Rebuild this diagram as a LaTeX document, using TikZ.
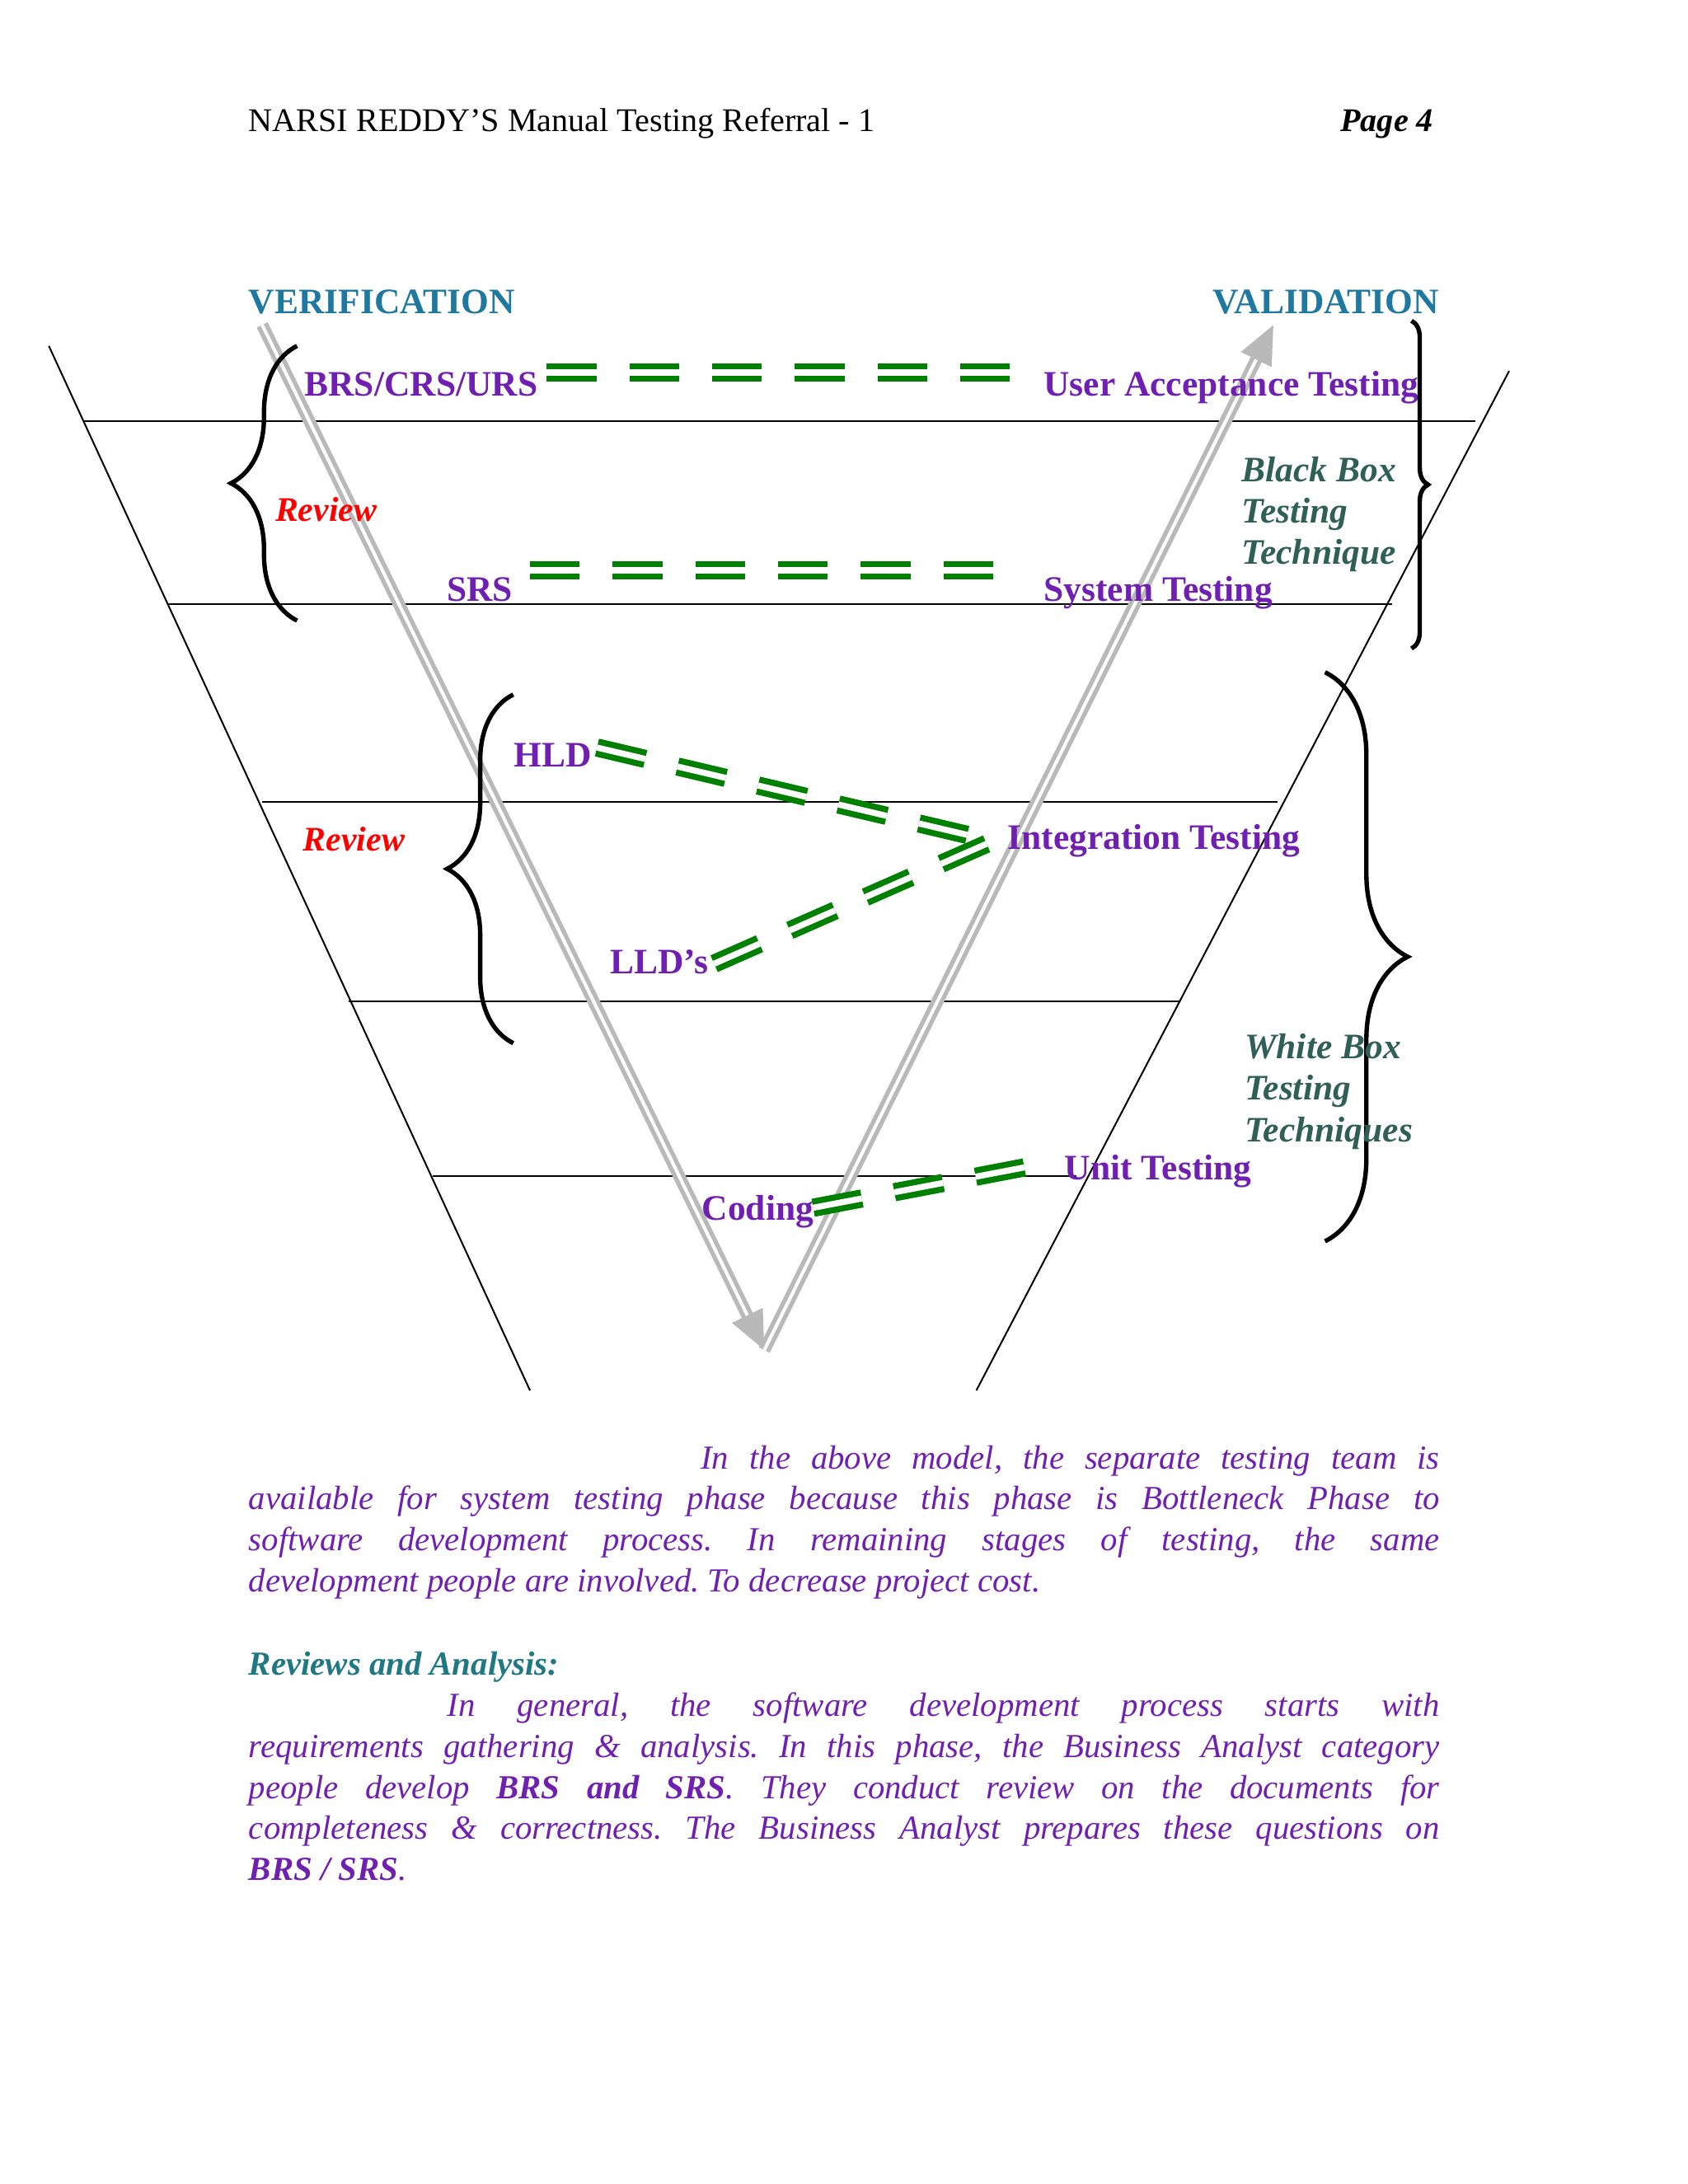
\documentclass[tikz,border=0pt]{standalone}
\usepackage{fontspec}
\setmainfont{Liberation Serif}
\usetikzlibrary{decorations.pathreplacing,arrows.meta}
\definecolor{vblue}{RGB}{31,120,160}
\definecolor{lpurple}{RGB}{112,32,176}
\definecolor{tgreen}{RGB}{47,95,85}
\definecolor{dgreen}{RGB}{0,128,0}
\definecolor{rteal}{RGB}{31,120,130}
\frenchspacing
\tikzset{
 lab/.style={font=\fontsize{13}{15}\selectfont\bfseries, text=lpurple, inner sep=0pt, anchor=base west},
 tech/.style={font=\fontsize{13}{15}\selectfont\bfseries\itshape, text=tgreen, inner sep=0pt, anchor=north west, align=left},
 rev/.style={font=\fontsize{12.5}{14}\selectfont\bfseries\itshape, text=red, inner sep=0pt, anchor=base west},
 gdash/.style={draw=dgreen, double=white, double distance=2.2pt, line width=2.2pt, dash pattern=on 18pt off 12pt},
 garrow/.style={draw=gray!55, double=white, double distance=1.2pt, line width=1.6pt, -{Triangle[length=14pt,width=12pt,fill=gray!55]}},
 brc/.style={draw, line width=1.6pt, decorate, decoration={brace, amplitude=24pt}},
 thin/.style={draw, line width=0.6pt},
 para/.style={anchor=north west, inner sep=0pt, text=lpurple, text width=432pt, align=justify, font=\fontsize{12.2}{14.9}\selectfont\itshape}
}
\begin{document}
\begin{tikzpicture}[x=0.506pt,y=-0.506pt]
\useasboundingbox (0,0) rectangle (1210,1566);
\node[font=\fontsize{12}{14}\selectfont, anchor=base west, inner sep=0pt] (hdr) at (178,94) {NARSI REDDY’S Manual Testing Referral - 1};
\node[font=\fontsize{12}{14}\selectfont\bfseries\itshape, anchor=base east, inner sep=0pt] (pg) at (1028,94) {Page 4};
\node[font=\fontsize{13}{15}\selectfont\bfseries, text=vblue, anchor=base west, inner sep=0pt] (ver) at (178,225) {VERIFICATION};
\node[font=\fontsize{13}{15}\selectfont\bfseries, text=vblue, anchor=base east, inner sep=0pt] (val) at (1032,225) {VALIDATION};
% funnel
\coordinate (l1) at (35,248); \coordinate (l2) at (380,997);
\coordinate (r1) at (1082,266); \coordinate (r2) at (700,997);
\draw[thin] (l1) -- (l2); \draw[thin] (r1) -- (r2);
\draw[thin] (60,302) -- (1058,302);
\draw[thin] (120,433) -- (998,433);
\draw[thin] (188,575) -- (916,575);
\draw[thin] (250,718) -- (846,718);
\draw[thin] (310,843) -- (772,843);
% V arrows
\coordinate (vt1) at (188,233); \coordinate (vb) at (548,968); \coordinate (vt2) at (913,233);
\draw[garrow] (vt1) -- (vb);
\draw[garrow] (vb) -- (vt2);
% labels
\node[lab] (brs) at (218,284) {BRS/CRS/URS};
\node[lab] (uat) at (748,284) {User Acceptance Testing};
\node[lab] (srs) at (320,431) {SRS};
\node[lab] (st) at (748,431) {System Testing};
\node[lab] (hld) at (368,550) {HLD};
\node[lab] (it) at (722,609) {Integration Testing};
\node[lab] (lld) at (437,698) {LLD’s};
\node[lab] (cod) at (503,875) {Coding};
\node[lab] (ut) at (763,846) {Unit Testing};
% green dashed
\coordinate (g1a) at (392,267); \coordinate (g1b) at (738,267);
\coordinate (g2a) at (380,409); \coordinate (g2b) at (728,409);
\coordinate (g3a) at (428,536); \coordinate (g3b) at (712,603);
\coordinate (g4a) at (512,691);
\coordinate (g5a) at (583,866); \coordinate (g5b) at (740,836);
\draw[gdash] (g1a) -- (g1b);
\draw[gdash] (g2a) -- (g2b);
\draw[gdash] (g3a) -- (g3b);
\draw[gdash] (g4a) -- (g3b);
\draw[gdash] (g5a) -- (g5b);
% braces
\draw[brc] (213,445) -- (213,248);
\draw[brc] (368,748) -- (368,498);
\draw[brc, decoration={brace, amplitude=6pt}] (1012,230) -- (1012,465);
\draw[brc, decoration={brace, amplitude=30pt}] (950,482) -- (950,890);
\node[rev] (rv1) at (197,374) {Review};
\node[rev] (rv2) at (217,610) {Review};
\node[tech] (bb) at (890,327) {Black Box\\Testing\\Technique};
\node[tech] (wb) at (892,741) {White Box\\Testing\\Techniques};
% paragraphs
\node[para] (p1) at (178,1036) {%
\hspace*{164pt}In the above model, the separate testing team is\linebreak available for system testing phase because this phase is Bottleneck Phase to\linebreak software development process. In remaining stages of testing, the same\linebreak development people are involved. To decrease project cost.};
\node[para] (p2) at (178,1184) {%
{\color{rteal}\bfseries Reviews and Analysis:}\\
\hspace*{72pt}In general, the software development process starts with\linebreak requirements gathering \& analysis. In this phase, the Business Analyst category\linebreak people develop {\bfseries BRS and SRS}. They conduct review on the documents for\linebreak completeness \& correctness. The Business Analyst prepares these questions on\linebreak {\bfseries BRS / SRS}.};
\end{tikzpicture}
\end{document}
